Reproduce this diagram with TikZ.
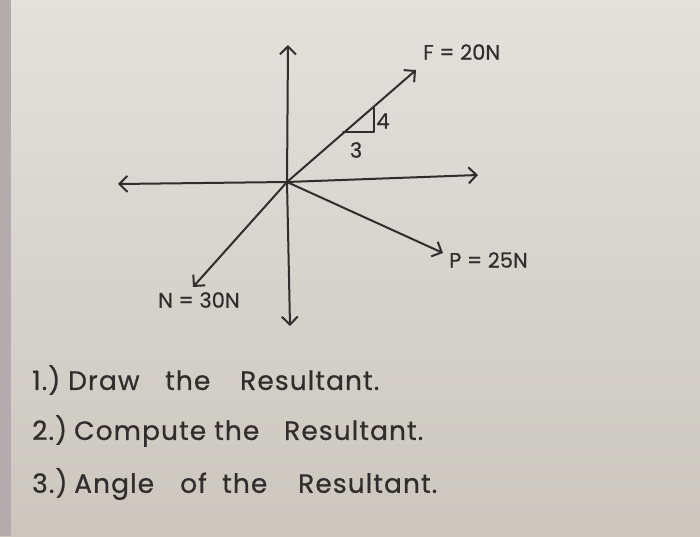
\documentclass[tikz,border=0pt]{standalone}
\usepackage{fontspec}
\setmainfont[FakeBold=0.6]{Poppins}
\usetikzlibrary{arrows.meta}
\definecolor{ink}{RGB}{48,46,45}
\definecolor{paperA}{RGB}{226,225,220}
\definecolor{paperB}{RGB}{203,199,191}
\definecolor{edge}{RGB}{178,173,172}
\tikzset{
  vec/.style={draw=ink, line width=2pt, line cap=round, -{Straight Barb[length=8pt,width=16pt,line width=2pt]}},
  plain/.style={draw=ink, line width=1.8pt, line cap=round},
  lbl/.style={text=ink, font=\fontsize{21}{24}\selectfont, inner sep=0pt},
  qline/.style={text=ink, font=\fontsize{26.5}{30}\selectfont\addfontfeature{LetterSpace=4}, inner sep=0pt, anchor=west}
}
\begin{document}
\begin{tikzpicture}[x=1pt,y=-1pt]
\useasboundingbox (0,0) rectangle (700,536);
\shade[top color=paperA, bottom color=paperB] (0,0) rectangle (700,536);
\fill[edge] (0,0) rectangle (11,536);
% origin and ends
\coordinate (O) at (287,182);
\coordinate (up) at (288,45);
\coordinate (down) at (290,326);
\coordinate (left) at (118,184);
\coordinate (right) at (478,175);
\coordinate (F) at (416,70);
\coordinate (P) at (443,253);
\coordinate (N) at (193,287);
\draw[vec] (O) -- (up);
\draw[vec] (O) -- (down);
\draw[vec] (O) -- (left);
\draw[vec] (O) -- (right);
\draw[vec] (O) -- (F);
\draw[vec] (O) -- (P);
\draw[vec] (O) -- (N);
% slope triangle
\coordinate (ta) at (343,132);
\coordinate (tb) at (374,132);
\coordinate (tc) at (374,108);
\draw[plain, line join=round] (ta) -- (tb) -- (tc);
\node[lbl] (three) at (356,150) {3};
\node[lbl] (four) at (383,121) {4};
% labels
\node[lbl, anchor=west] (Flab) at (423,52) {F = 20N};
\node[lbl, anchor=west] (Plab) at (449,260) {P = 25N};
\node[lbl, anchor=west] (Nlab) at (158,300) {N = 30N};
% questions
\node[qline] (q1) at (32,380) {\makebox[36pt][l]{1.)}\makebox[97pt][l]{Draw}\makebox[75pt][l]{the}Resultant.};
\node[qline] (q2) at (32,431) {\makebox[42pt][l]{2.)}\makebox[140pt][l]{Compute}\makebox[70pt][l]{the}Resultant.};
\node[qline] (q3) at (32,484) {\makebox[42pt][l]{3.)}\makebox[106pt][l]{Angle}\makebox[42pt][l]{of}\makebox[76pt][l]{the}Resultant.};
\end{tikzpicture}
\end{document}
